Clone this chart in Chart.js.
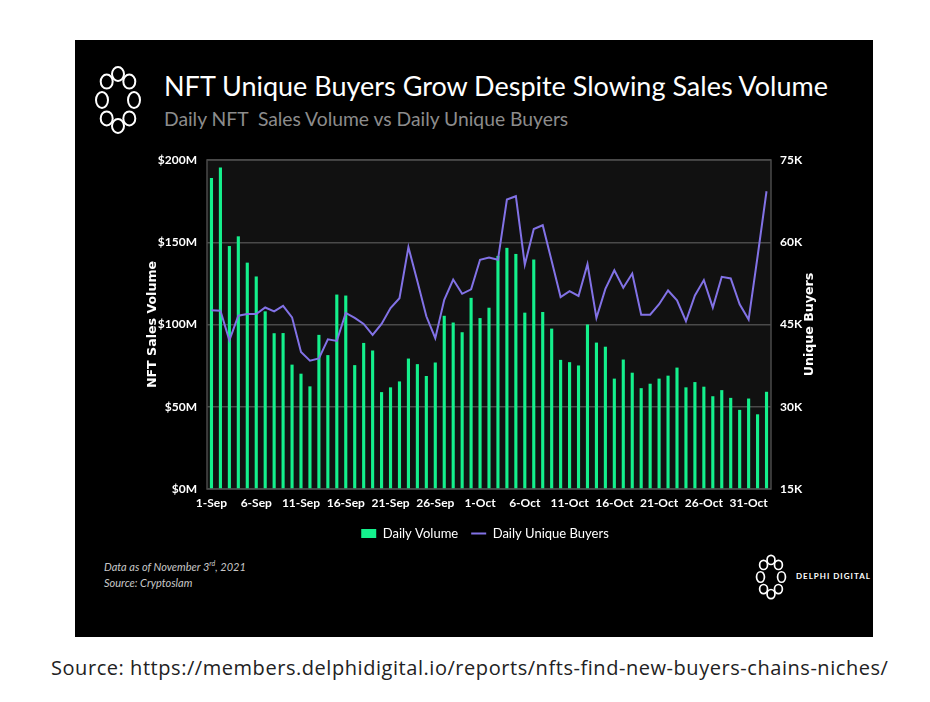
<!DOCTYPE html>
<html>
<head>
<meta charset="utf-8">
<script src="https://cdn.jsdelivr.net/npm/chart.js@4.4.0/dist/chart.umd.min.js"></script>
<style>
  body { margin: 0; background: #fff; width: 930px; height: 702px; position: relative; overflow: hidden; font-family: Lato, sans-serif; }
  #panel { position: absolute; left: 75px; top: 40px; width: 798px; height: 597px; background: #000; }
  #chart { position: absolute; left: 0; top: 0; }
  .abs { position: absolute; white-space: pre; }
  #title { left: 89px; top: 29px; color: #fff; font-size: 27px; }
  #subtitle { left: 89px; top: 67px; color: #8c8c8c; font-size: 19.3px; }
  #note { left: 29px; top: 515px; color: #c8c8c8; font-size: 11px; font-style: italic; line-height: 16px; }
  #brand { left: 721px; top: 531px; color: #fff; font-size: 8px; font-weight: bold; letter-spacing: 1px; }
  #source { left: 51px; top: 654px; color: #222; font-size: 20px; letter-spacing: 0.55px; font-family: "Open Sans", sans-serif; }
</style>
</head>
<body>
<div id="panel">
  <svg class="abs" style="left:20px;top:25px" width="46" height="70" viewBox="0 0 46 70">
    <g fill="none" stroke="#fff" stroke-width="2">
      <ellipse cx="23" cy="9" rx="6" ry="7"/>
      <ellipse cx="34.3" cy="16.6" rx="6" ry="7"/>
      <ellipse cx="39" cy="35" rx="6" ry="8"/>
      <ellipse cx="34.3" cy="53.4" rx="6" ry="7"/>
      <ellipse cx="23" cy="61" rx="6" ry="7"/>
      <ellipse cx="11.7" cy="53.4" rx="6" ry="7"/>
      <ellipse cx="7" cy="35" rx="6" ry="8"/>
      <ellipse cx="11.7" cy="16.6" rx="6" ry="7"/>
    </g>
  </svg>
  <div id="title" class="abs">NFT Unique Buyers Grow Despite Slowing Sales Volume</div>
  <div id="subtitle" class="abs">Daily NFT  Sales Volume vs Daily Unique Buyers</div>
  <canvas id="chart" width="798" height="510"></canvas>
  <div id="note" class="abs">Data as of November 3<sup style="font-size:7px">rd</sup>, 2021
Source: Cryptoslam</div>
  <svg class="abs" style="left:680px;top:514px" width="32" height="46" viewBox="0 0 46 70">
    <g fill="none" stroke="#fff" stroke-width="2.6">
      <ellipse cx="23" cy="9" rx="6" ry="7"/>
      <ellipse cx="34.3" cy="16.6" rx="6" ry="7"/>
      <ellipse cx="39" cy="35" rx="6" ry="8"/>
      <ellipse cx="34.3" cy="53.4" rx="6" ry="7"/>
      <ellipse cx="23" cy="61" rx="6" ry="7"/>
      <ellipse cx="11.7" cy="53.4" rx="6" ry="7"/>
      <ellipse cx="7" cy="35" rx="6" ry="8"/>
      <ellipse cx="11.7" cy="16.6" rx="6" ry="7"/>
    </g>
  </svg>
  <div id="brand" class="abs">DELPHI DIGITAL</div>
</div>
<div id="source" class="abs">Source: https://members.delphidigital.io/reports/nfts-find-new-buyers-chains-niches/</div>

<script>
const days = [
  '1-Sep','2-Sep','3-Sep','4-Sep','5-Sep','6-Sep','7-Sep','8-Sep','9-Sep','10-Sep',
  '11-Sep','12-Sep','13-Sep','14-Sep','15-Sep','16-Sep','17-Sep','18-Sep','19-Sep','20-Sep',
  '21-Sep','22-Sep','23-Sep','24-Sep','25-Sep','26-Sep','27-Sep','28-Sep','29-Sep','30-Sep',
  '1-Oct','2-Oct','3-Oct','4-Oct','5-Oct','6-Oct','7-Oct','8-Oct','9-Oct','10-Oct',
  '11-Oct','12-Oct','13-Oct','14-Oct','15-Oct','16-Oct','17-Oct','18-Oct','19-Oct','20-Oct',
  '21-Oct','22-Oct','23-Oct','24-Oct','25-Oct','26-Oct','27-Oct','28-Oct','29-Oct','30-Oct',
  '31-Oct','1-Nov','2-Nov'
];

// daily volume, $M
const volume = [
  189, 195.5, 147.7, 153.6, 137.6, 129.2, 108, 94.7, 94.8, 75.6,
  70.1, 62.4, 93.7, 81.4, 118.2, 117.6, 75.3, 88.8, 84.2, 58.9,
  61.8, 65.4, 79.3, 75.9, 68.7, 76.9, 105.3, 101.2, 95.3, 116.2,
  103.9, 110.2, 141.7, 146.6, 142.9, 107.2, 139.5, 107.6, 97.5, 78.5,
  77.1, 75.1, 100, 89, 86.5, 67.1, 78.7, 70.7, 61.3, 64,
  67.1, 68.9, 73.8, 61.8, 65, 62.2, 56.4, 60.1, 55.4, 48.1,
  55, 45.4, 59.1
];

// daily unique buyers, thousands
const buyers = [
  47.6, 47.5, 42.1, 46.6, 46.9, 46.9, 48.1, 47.4, 48.4, 46.3,
  40.0, 38.4, 38.8, 42.3, 42.0, 47.1, 46.2, 45.1, 43.1, 45.1,
  48.0, 49.8, 59.1, 52.9, 46.5, 42.5, 49.5, 53.2, 50.6, 51.4,
  56.8, 57.2, 56.8, 67.8, 68.4, 55.9, 62.4, 63.1, 56.6, 50.0,
  51.1, 50.2, 56.0, 46.2, 51.5, 54.9, 51.7, 54.3, 46.8, 46.8,
  48.7, 51.2, 49.4, 45.6, 50.3, 53.1, 48.1, 53.7, 53.4, 48.7,
  45.9, 57.4, 69.3
];

const volTicks = [0, 50, 100, 150, 200];
const buyerTicks = [15, 30, 45, 60, 75];

const GREEN = '#14f08c';
const PURPLE = '#8272e6';
const GRID = '#4a4a4a';
const tickFont = { family: 'Lato', size: 12, weight: 'bold' };

// plot background, frame and the two axis titles
const frame = {
  id: 'frame',
  beforeDraw(chart) {
    const { ctx, chartArea: a } = chart;
    ctx.save();
    ctx.fillStyle = '#111';
    ctx.fillRect(a.left, a.top, a.right - a.left, a.bottom - a.top);
    ctx.restore();
  },
  beforeDatasetsDraw(chart) {
    const { ctx, chartArea: a } = chart;
    ctx.save();
    ctx.strokeStyle = GRID;
    ctx.lineWidth = 1.5;
    ctx.strokeRect(a.left, a.top, a.right - a.left, a.bottom - a.top);
    ctx.restore();
  },
  afterDraw(chart) {
    const { ctx } = chart;
    const mid = (chart.chartArea.top + chart.chartArea.bottom) / 2;
    ctx.save();
    ctx.fillStyle = '#fff';
    ctx.font = 'bold 12.6px "DejaVu Sans"';
    ctx.textAlign = 'center';
    ctx.textBaseline = 'middle';
    [['NFT Sales Volume', 78], ['Unique Buyers', 735]].forEach(([txt, x]) => {
      ctx.save();
      ctx.translate(x, mid);
      ctx.rotate(-Math.PI / 2);
      ctx.fillText(txt, 0, 0);
      ctx.restore();
    });
    ctx.restore();
  }
};

new Chart(document.getElementById('chart'), {
  type: 'bar',
  data: {
    labels: days,
    datasets: [
      {
        type: 'bar',
        label: 'Daily Volume',
        data: volume,
        backgroundColor: GREEN,
        barPercentage: 0.35,
        categoryPercentage: 1,
        yAxisID: 'y',
        order: 1
      },
      {
        type: 'line',
        label: 'Daily Unique Buyers',
        data: buyers,
        borderColor: PURPLE,
        backgroundColor: PURPLE,
        borderWidth: 2,
        pointRadius: 0,
        tension: 0,
        yAxisID: 'y1',
        order: 0
      }
    ]
  },
  options: {
    responsive: false,
    animation: false,
    layout: { padding: { left: 62, right: 40, top: 120, bottom: 0 } },
    scales: {
      x: {
        grid: { display: false, drawTicks: false },
        border: { display: false },
        ticks: {
          color: '#fff',
          font: tickFont,
          padding: 7,
          autoSkip: false,
          maxRotation: 0,
          callback: (v, i) => (i % 5 === 0 ? days[i] : '')
        },
        afterFit: s => { s.height = 25; }
      },
      y: {
        position: 'left',
        min: 0,
        max: 200,
        afterBuildTicks: s => { s.ticks = volTicks.map(v => ({ value: v })); },
        grid: { color: GRID, lineWidth: 1.5, drawTicks: false },
        border: { display: false },
        ticks: { color: '#fff', font: tickFont, padding: 10, callback: v => '$' + v + 'M' },
        afterFit: s => { s.width = 70; }
      },
      y1: {
        position: 'right',
        min: 15,
        max: 75,
        afterBuildTicks: s => { s.ticks = buyerTicks.map(v => ({ value: v })); },
        grid: { display: false, drawTicks: false },
        border: { display: false },
        ticks: { color: '#fff', font: tickFont, padding: 9, callback: v => v + 'K' },
        afterFit: s => { s.width = 62; }
      }
    },
    plugins: {
      legend: {
        position: 'bottom',
        labels: {
          color: '#fff',
          font: { family: 'Lato', size: 13 },
          usePointStyle: true,
          pointStyleWidth: 15,
          boxHeight: 9,
          padding: 13,
          generateLabels(chart) {
            const items = Chart.defaults.plugins.legend.labels.generateLabels(chart);
            items.sort((a, b) => a.datasetIndex - b.datasetIndex);
            items.forEach(it => {
              it.pointStyle = it.datasetIndex === 0 ? 'rect' : 'line';
              it.lineWidth = it.datasetIndex === 0 ? 0 : 2;
            });
            return items;
          }
        }
      },
      tooltip: { enabled: false }
    }
  },
  plugins: [frame]
});
</script>
</body>
</html>
